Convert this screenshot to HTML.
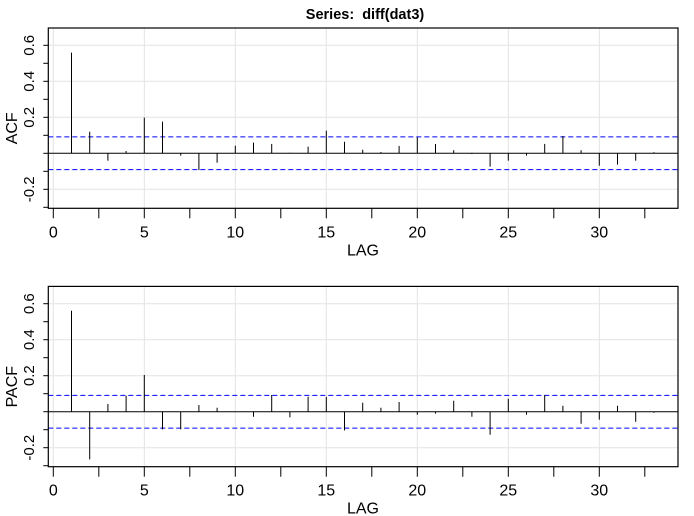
<!DOCTYPE html>
<html><head><meta charset="utf-8">
<style>
html,body{margin:0;padding:0;background:#fff;}
svg{display:block;font-family:"Liberation Sans",Arial,sans-serif;}
</style></head>
<body>
<svg id="chart" width="694" height="516" viewBox="0 0 694 516">
<text x="365" y="19" text-anchor="middle" font-size="14.5" font-weight="bold">Series:&#160; diff(dat3)</text>
</svg>
<script>
const lags = [1,2,3,4,5,6,7,8,9,10,11,12,13,14,15,16,17,18,19,20,21,22,23,24,25,26,27,28,29,30,31,32,33];
const acfValues = [0.559,0.12,-0.041,0.013,0.198,0.176,-0.013,-0.093,-0.052,0.042,0.059,0.052,0.003,0.037,0.126,0.064,0.02,0.007,0.041,0.089,0.052,0.017,-0.004,-0.074,-0.041,-0.013,0.052,0.096,0.017,-0.069,-0.063,-0.041,0.006];
const pacfValues = [0.561,-0.265,0.043,0.089,0.204,-0.098,-0.098,0.037,0.022,0.001,-0.028,0.093,-0.031,0.083,0.083,-0.104,0.05,0.022,0.054,-0.017,-0.011,0.061,-0.028,-0.128,0.072,-0.017,0.093,0.033,-0.067,-0.044,0.033,-0.056,-0.006];
const confBand = [0.091];
const yTickLabels = [0.6,0.4,0.2,-0.2];
const xTickLabels = [0,5,10,15,20,25,30];

const svg = document.getElementById('chart');
const NS = 'http://www.w3.org/2000/svg';
function mk(tag, attrs, parent) {
  const e = document.createElementNS(NS, tag);
  for (const k in attrs) e.setAttribute(k, attrs[k]);
  (parent || svg).appendChild(e);
  return e;
}
const L = 48.3, R = 678, X0 = 53.3, XS = 18.2;
const x = v => X0 + v * XS;

function panel(name, ylab, values, top, zero) {
  const g = mk('g', {});
  
  
  const bottom = top + 180.3;
  const y = v => zero - v * 180;
  xTickLabels.forEach(t => {
    const l = mk('line', {x1: x(t), x2: x(t), y1: top, y2: bottom, stroke: '#e3e3e3', 'stroke-width': 1}, g);
    
    
  });
  yTickLabels.forEach(t => {
    const l = mk('line', {x1: L, x2: R, y1: y(t), y2: y(t), stroke: '#e3e3e3', 'stroke-width': 1}, g);
    
    
  });
  const zl = mk('line', {x1: L, x2: R, y1: y(0), y2: y(0), stroke: '#000', 'stroke-width': 1}, g);
  
  
  [confBand[0], -confBand[0]].forEach(c => {
    const l = mk('line', {x1: L, x2: R, y1: y(c), y2: y(c), stroke: '#0000ff', 'stroke-width': 1, 'stroke-dasharray': '5,3'}, g);
    
    
  });
  lags.forEach((lg, i) => {
    const b = mk('line', {x1: x(lg), x2: x(lg), y1: y(0), y2: y(values[i]), stroke: '#000', 'stroke-width': 1}, g);
    
    
  });
  const box = mk('rect', {x: L, y: top, width: R - L, height: bottom - top, fill: 'none', stroke: '#000', 'stroke-width': 1.2}, g);
  
  
  for (let k = -3; k <= 6; k++) {
    const v = k / 10;
    if (y(v) < top - 0.5 || y(v) > bottom + 0.5) continue;
    const t = mk('line', {x1: L - 5, x2: L, y1: y(v), y2: y(v), stroke: '#000'}, g);
    
    
  }
  yTickLabels.forEach(v => {
    const tx = mk('text', {x: 34, y: y(v), 'font-size': 15, 'text-anchor': 'middle', transform: 'rotate(-90 34 ' + y(v) + ')'}, g);
    tx.textContent = v;
    
    
  });
  for (let v = 0; v <= 32.5; v += 2.5) {
    const t = mk('line', {x1: x(v), x2: x(v), y1: bottom, y2: bottom + 10, stroke: '#000'}, g);
    
    
  }
  xTickLabels.forEach(v => {
    const tx = mk('text', {x: x(v), y: bottom + 29, 'font-size': 16, 'text-anchor': 'middle'}, g);
    tx.textContent = v;
    
    
  });
  const xl = mk('text', {x: 363, y: bottom + 47, 'font-size': 16, 'text-anchor': 'middle'}, g);
  xl.textContent = 'LAG';
  
  
  const cy = zero - 25;
  const yl = mk('text', {x: 17, y: cy, 'font-size': 16, 'text-anchor': 'middle', transform: 'rotate(-90 17 ' + cy + ')'}, g);
  yl.textContent = ylab;
  
  
}
panel('acf', 'ACF', acfValues, 28, 153.3);
panel('pacf', 'PACF', pacfValues, 286.4, 411.7);
</script>
</body></html>
